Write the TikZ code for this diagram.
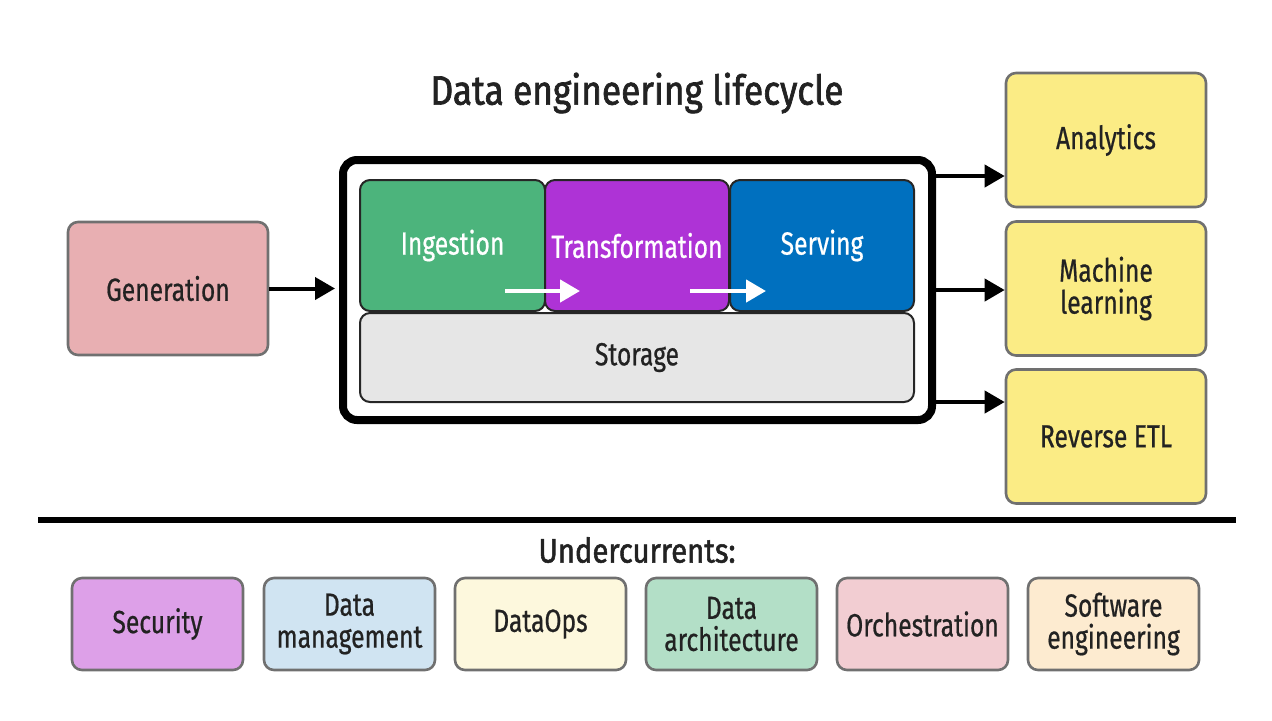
\documentclass[tikz,border=0pt]{standalone}
\usepackage{fontspec}
\setmainfont[FakeStretch=0.77,FakeBold=0.6]{Fira Sans}
\newfontfamily\titlefont[FakeStretch=0.86,FakeBold=1.6]{Fira Sans}
\usetikzlibrary{arrows.meta,calc}
\definecolor{genfill}{HTML}{E8AFB2}
\definecolor{outfill}{HTML}{FBEC85}
\definecolor{ingfill}{HTML}{4CB47C}
\definecolor{trafill}{HTML}{AE33D6}
\definecolor{serfill}{HTML}{0070BF}
\definecolor{stofill}{HTML}{E6E6E6}
\definecolor{secfill}{HTML}{DDA0E8}
\definecolor{dmfill}{HTML}{D0E4F2}
\definecolor{dofill}{HTML}{FDF8DD}
\definecolor{dafill}{HTML}{B3DFC7}
\definecolor{orfill}{HTML}{F2CDD2}
\definecolor{sefill}{HTML}{FDEBD0}
\definecolor{txt}{HTML}{222222}
\definecolor{border}{HTML}{707070}
\tikzset{
  grayb/.style={draw=border, line width=1.3pt, rounded corners=5pt, text=txt, align=center,
    font=\fontsize{16}{16}\selectfont, inner sep=0pt},
  stage/.style={draw=black!85, line width=1pt, rounded corners=5pt, text=white, align=center,
    font=\fontsize{16}{16}\selectfont, inner sep=0pt},
  conn/.style={line width=2pt, -{Triangle[length=10pt,width=11pt]}},
  warrow/.style={draw=white, line width=2.2pt, -{Triangle[length=10pt,width=11pt]}},
  under/.style={grayb, minimum width=85.5pt, minimum height=46pt},
  outb/.style={grayb, fill=outfill, minimum width=100pt, minimum height=67pt},
}
\begin{document}
\begin{tikzpicture}[x=0.5pt,y=-0.5pt]
\useasboundingbox (0,0) rectangle (1272,720);
\node[text=txt, font=\titlefont\fontsize{20.5}{20.5}\selectfont] (title) at (637,93) {Data engineering lifecycle};
\node[draw=black, line width=4pt, rounded corners=7pt, minimum width=294.5pt, minimum height=130pt, inner sep=0pt] (outer) at (637.5,290) {};
\node[stage, fill=ingfill, minimum width=92.5pt, minimum height=65.5pt] (ing) at (452.5,245.5) {Ingestion};
\node[stage, fill=trafill, minimum width=92pt, minimum height=65.5pt] (tra) at (637,245.5) {Transformation};
\node[stage, fill=serfill, minimum width=92pt, minimum height=65.5pt] (ser) at (822,245.5) {Serving};
\node[stage, fill=stofill, text=txt, minimum width=277pt, minimum height=44.5pt] (sto) at (637,357.5) {Storage};
\coordinate (w1s) at (505,291);
\coordinate (w1e) at (580,291);
\coordinate (w2s) at (690,291);
\coordinate (w2e) at (766,291);
\draw[warrow] (w1s) -- (w1e);
\draw[warrow] (w2s) -- (w2e);
\node[grayb, fill=genfill, minimum width=100pt, minimum height=66.5pt] (gen) at (168,288.5) {Generation};
\node[outb] (ana) at (1106,140) {Analytics};
\node[outb] (ml) at (1106,288.5) {Machine\\learning};
\node[outb] (retl) at (1106,436.5) {Reverse ETL};
\draw[conn, shorten >=2pt] (gen.east) -- (gen.east -| outer.west);
\coordinate (o1) at ($(outer.north east)+(0,20)$);
\coordinate (o2) at ($(outer.east)+(0,0)$);
\coordinate (o3) at ($(outer.south east)+(0,-22)$);
\draw[conn] (o1) -- (o1 -| ana.west);
\draw[conn] (o2) -- (o2 -| ml.west);
\draw[conn] (o3) -- (o3 -| retl.west);
\coordinate (l1) at (38,520);
\coordinate (l2) at (1236,520);
\draw[line width=2.6pt] (l1) -- (l2);
\node[text=txt, font=\titlefont\fontsize{17}{17}\selectfont] (uc) at (637,550) {Undercurrents:};
\node[under, fill=secfill] (sec) at (157.5,624) {Security};
\node[under, fill=dmfill] (dm) at (349.5,624) {Data\\management};
\node[under, fill=dofill] (dops) at (540.5,624) {DataOps};
\node[under, fill=dafill] (da) at (731.5,624) {Data\\architecture};
\node[under, fill=orfill] (orc) at (922.5,624) {Orchestration};
\node[under, fill=sefill] (swe) at (1113.5,624) {Software\\engineering};
\end{tikzpicture}
\end{document}
